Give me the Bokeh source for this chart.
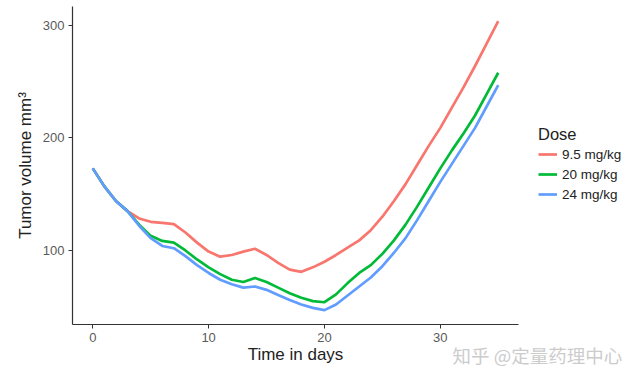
import math
from bokeh.plotting import figure
from bokeh.models import Legend, LegendItem, Range1d, FixedTicker, Label
from bokeh.embed import file_html
from bokeh.resources import INLINE

days = list(range(0, 36))
dose_95 = [173, 157, 144, 135, 128.5, 125.5, 124.5, 123.5, 116, 107, 99, 94.5,
           96, 99, 101.5, 96, 89, 83, 81, 85, 90, 96, 102.5, 109, 118, 130,
           144, 159, 176, 193, 209, 227, 245, 264, 284, 304]
dose_20 = [173, 157, 144, 135, 123, 113, 108.5, 107, 100, 92, 85, 79,
           74, 72, 75.5, 72, 67, 62, 58, 55, 54, 61, 71, 80, 87, 97,
           109, 123, 139, 156, 173, 189, 204, 220, 239, 258]
dose_24 = [173, 157, 144, 135, 122, 111, 104, 102, 95, 87, 80, 74,
           70, 67, 68, 65, 60.5, 56, 52, 49, 47, 52, 60, 68, 76, 86,
           98, 111, 127, 144, 161, 177, 193, 209, 228, 247]
series_labels = ["9.5 mg/kg", "20 mg/kg", "24 mg/kg"]
colors = ["#F8766D", "#00BA38", "#619CFF"]
x_ticks = [0, 10, 20, 30]
y_ticks = [100, 200, 300]
x_title = "Time in days"
y_title = "Tumor volume mm³"
legend_title = "Dose"
watermark = "知乎 @定量药理中心"

FONT = "Liberation Sans"
W, H = 639, 379
# axis extents (data) and where they sit on the page (px)
X0, X1 = -1.75, 36.75
Y0, Y1 = 34.2, 316.9
AX_L, AX_R, AX_T, AX_B = 72, 518, 6, 324
sx = (AX_R - AX_L) / (X1 - X0)
sy = (AX_B - AX_T) / (Y1 - Y0)
x_range = Range1d(X0 - AX_L / sx, X0 + (W - AX_L) / sx)
y_range = Range1d(Y0 - (H - AX_B) / sy, Y1 + AX_T / sy)

p = figure(width=W, height=H, output_backend="svg", toolbar_location=None,
           x_range=x_range, y_range=y_range, min_border=0)
p.outline_line_color = None
p.xgrid.visible = False
p.ygrid.visible = False
p.background_fill_color = "white"
p.border_fill_color = "white"

renderers = []
for ys, c in zip([dose_95, dose_20, dose_24], colors):
    r = p.line(days, ys, line_color=c, line_width=2.7, line_join="round")
    renderers.append(r)

for ax in (p.xaxis[0], p.yaxis[0]):
    ax.axis_line_color = "#333333"
    ax.axis_line_width = 1.2
    ax.major_tick_line_color = "#333333"
    ax.major_tick_out = 4
    ax.major_tick_in = 0
    ax.minor_tick_line_color = None
    ax.major_label_text_font = FONT
    ax.major_label_text_font_size = "13px"
    ax.major_label_text_color = "#5a5a5a"

p.xaxis.fixed_location = Y0
p.yaxis.fixed_location = X0
p.xaxis.bounds = (X0, X1)
p.yaxis.bounds = (Y0, Y1)
p.xaxis.ticker = FixedTicker(ticks=x_ticks)
p.yaxis.ticker = FixedTicker(ticks=y_ticks)
p.xaxis.major_label_standoff = 4
p.yaxis.major_label_standoff = 4

# axis titles (screen units: x from left, y from bottom of the frame = page)
p.add_layout(Label(x=295, y=H - 354, x_units="screen", y_units="screen", text=x_title,
                   text_font=FONT, text_font_size="17px", text_color="#222222",
                   text_align="center", text_baseline="middle"))
p.add_layout(Label(x=25, y=H - 165, x_units="screen", y_units="screen", text=y_title,
                   angle=math.pi / 2, text_font=FONT, text_font_size="17px",
                   text_color="#222222", text_align="center", text_baseline="middle"))

legend = Legend(items=[LegendItem(label=l, renderers=[r]) for l, r in zip(series_labels, renderers)],
                title=legend_title, location=(532, H - 210))
legend.title_text_font = FONT
legend.title_text_font_size = "16.5px"
legend.title_text_font_style = "normal"
legend.title_text_color = "#222222"
legend.title_standoff = 0
legend.label_text_font = FONT
legend.label_text_font_size = "13.5px"
legend.label_text_color = "#222222"
legend.glyph_width = 19
legend.glyph_height = 20
legend.label_height = 20
legend.spacing = 0
legend.label_standoff = 5
legend.padding = 6
legend.margin = 0
legend.background_fill_alpha = 0
legend.border_line_alpha = 0
p.add_layout(legend, "center")

p.add_layout(Label(x=452, y=H - 354, x_units="screen", y_units="screen", text=watermark,
                   text_font="Noto Sans CJK SC", text_font_size="18.5px", text_color="#cccccc",
                   text_align="left", text_baseline="middle"))

open("out.html", "w").write(file_html(p, INLINE))
